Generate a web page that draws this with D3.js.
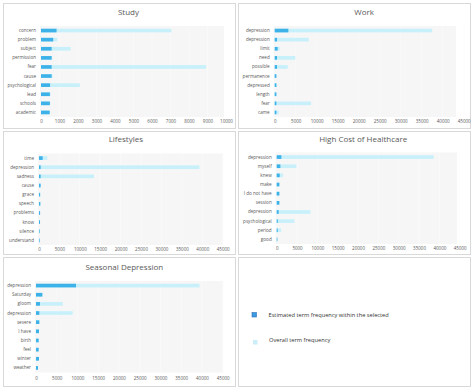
<!DOCTYPE html>
<html><head><meta charset="utf-8">
<script src="https://cdn.jsdelivr.net/npm/d3@7"></script>
<style>
html,body{margin:0;padding:0;background:#fff;}
svg{display:block;font-family:"Open Sans",sans-serif;}
</style></head><body>
<svg id="c" width="474" height="391"></svg>
<script>
const titles = ["Study","Work","Lifestyles","High Cost of Healthcare","Seasonal Depression"];
const studyCats = ["concern","problem","subject","permission","fear","cause","psychological","lead","schools","academic"];
const studyEst = [840,660,575,575,575,575,490,480,480,470];
const studyOverall = [7050,880,1600,600,8920,620,2100,520,500,480];
const workCats = ["depression","depression","limit","need","possible","permanence","depressed","length","fear","came"];
const workEst = [3250,550,700,550,550,400,400,400,400,400];
const workOverall = [37500,8100,1200,4900,3100,400,500,400,8650,950];
const lifeCats = ["time","depression","sadness","cause","grace","speech","problems","know","silence","understand"];
const lifeEst = [900,400,400,400,280,320,260,250,160,150];
const lifeOverall = [2040,39300,13480,400,300,340,280,260,180,160];
const healthCats = ["depression","myself","knew","make","I do not have","session","depression","psychological","period","good"];
const healthEst = [1150,900,740,650,650,650,490,260,250,160];
const healthOverall = [38600,4840,1560,650,650,650,8280,4340,1070,170];
const seasonCats = ["depression","Saturday","gloom","depression","severe","I have","birth","feel","winter","weather"];
const seasonEst = [9650,1530,960,800,800,720,640,640,720,480];
const seasonOverall = [39400,1530,6430,8840,800,720,640,640,720,480];
const studyTicks = [0,1000,2000,3000,4000,5000,6000,7000,8000,9000,10000];
const bigTicks = [0,5000,10000,15000,20000,25000,30000,35000,40000,45000];
const legendLabels = ["Estimated term frequency within the selected","Overall term frequency"];

const estColor = "#3db2e8", overColor = "#c7f0fb";
const svg = d3.select("#c");

// panel frames
const frames = [[3,3,232,125],[238,3,232,125],[3,131,232,123],[238,131,232,123],[3,257,232,129],[238,257,232,129]];
frames.forEach(f=>svg.append("rect").attr("x",f[0]+0.5).attr("y",f[1]+0.5).attr("width",f[2]).attr("height",f[3])
  .attr("fill","#fff").attr("stroke","#d9d9d9").attr("stroke-width",1));

const panels = [
 {t:titles[0],cats:studyCats,est:studyEst,ov:studyOverall,ticks:studyTicks,max:10000,x0:41,x1:226,ty:15,y0:26,y1:117,axy:124,bgx1:224},
 {t:titles[1],cats:workCats,est:workEst,ov:workOverall,ticks:bigTicks,max:45000,x0:274.7,x1:463.7,ty:15,y0:26,y1:117,axy:124,bgx1:456},
 {t:titles[2],cats:lifeCats,est:lifeEst,ov:lifeOverall,ticks:bigTicks,max:45000,x0:39,x1:222.7,ty:142,y0:153.5,y1:245,axy:252,bgx1:223},
 {t:titles[3],cats:healthCats,est:healthEst,ov:healthOverall,ticks:bigTicks,max:45000,x0:276.7,x1:459.7,ty:142,y0:152.5,y1:244,axy:251,bgx1:457},
 {t:titles[4],cats:seasonCats,est:seasonEst,ov:seasonOverall,ticks:bigTicks,max:45000,x0:36,x1:222.7,ty:270,y0:281,y1:372.5,axy:381,bgx1:223}
];

panels.forEach(p=>{
  const g = svg.append("g");
  const x = d3.scaleLinear().domain([0,p.max]).range([p.x0,p.x1]);
  const y = d3.scaleBand().domain(d3.range(p.cats.length)).range([p.y0,p.y1]).paddingInner(0.6).paddingOuter(0.3);
  g.append("rect").attr("x",p.x0-1).attr("y",p.y0).attr("width",p.bgx1-p.x0+1).attr("height",p.y1-p.y0).attr("fill","#f6f6f6");
  g.append("g").selectAll("line").data(p.ticks.slice(1)).join("line")
    .attr("x1",d=>x(d)).attr("x2",d=>x(d)).attr("y1",p.y0).attr("y2",p.y1).attr("stroke","#fbfbfb").attr("stroke-width",0.6);
  g.append("text").attr("x",(p.x0+p.x1)/2 - 5).attr("y",p.ty).attr("text-anchor","middle")
    .attr("font-size",8).attr("fill","#595959").text(p.t);
  g.append("g").selectAll("rect").data(p.ov).join("rect")
    .attr("x",x(0)).attr("y",(d,i)=>y(i)).attr("height",y.bandwidth()).attr("width",d=>x(d)-x(0)).attr("fill",overColor);
  g.append("g").selectAll("rect").data(p.est).join("rect")
    .attr("x",x(0)).attr("y",(d,i)=>y(i)).attr("height",y.bandwidth()).attr("width",d=>x(d)-x(0)).attr("fill",estColor);
  const ya = d3.axisLeft(y).tickSize(0).tickPadding(5).tickFormat(i=>p.cats[i]);
  const yg = g.append("g").attr("transform",`translate(${p.x0},0)`).call(ya);
  yg.select(".domain").remove();
  yg.selectAll("text").attr("font-size",4.6).attr("fill","#595959").attr("font-family","'Open Sans',sans-serif");
  const xa = d3.axisBottom(x).tickValues(p.ticks).tickSize(0).tickPadding(0).tickFormat(d3.format("d"));
  const xg = g.append("g").attr("transform",`translate(0,${p.axy-4})`).call(xa);
  xg.select(".domain").remove();
  xg.selectAll("text").attr("font-size",4.5).attr("fill","#595959").attr("font-family","'Open Sans',sans-serif");
});

// legend
const lg = svg.append("g");
lg.append("rect").attr("x",252).attr("y",312.5).attr("width",4.5).attr("height",4.5).attr("fill","#3a9be0").attr("stroke","#2f6fb8").attr("stroke-width",0.6);
lg.append("rect").attr("x",253).attr("y",340).attr("width",4.5).attr("height",4.5).attr("fill","#cbeef8");
lg.append("text").attr("x",268.5).attr("y",317).attr("font-size",5.7).attr("fill","#333").text(legendLabels[0]);
lg.append("text").attr("x",269).attr("y",342).attr("font-size",5.7).attr("fill","#333").text(legendLabels[1]);
</script></body></html>
